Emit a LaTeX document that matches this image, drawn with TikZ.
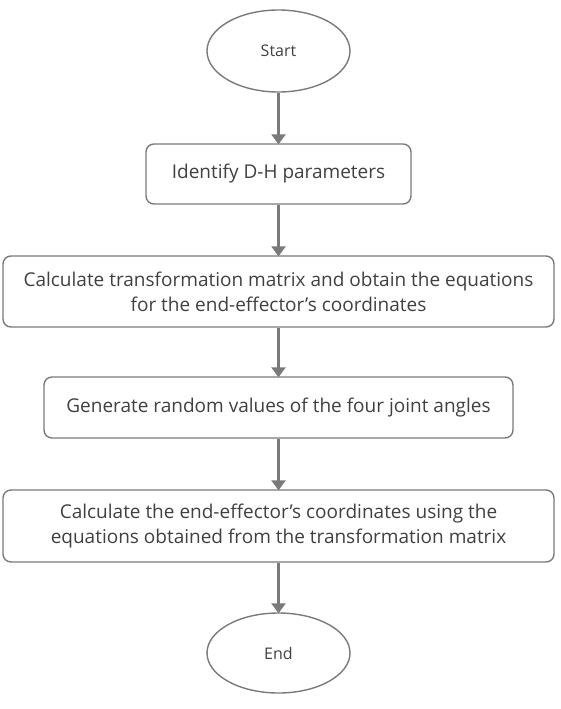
\documentclass[tikz,border=0pt]{standalone}
\usepackage{fontspec}
\setmainfont{Open Sans}
\usetikzlibrary{shapes.geometric,arrows.meta}
\definecolor{edge}{HTML}{7A7A7A}
\definecolor{txt}{HTML}{404040}
\tikzset{
  stepbox/.style={draw=edge, line width=1.4pt, rounded corners=8pt, text=txt, font=\fontsize{19}{25}\selectfont, align=center, inner sep=0pt},
  term/.style={draw=edge, line width=1.4pt, ellipse, text=txt, font=\fontsize{16}{18}\selectfont, inner sep=0pt},
  flow/.style={draw=edge, line width=2.4pt, -{Triangle[length=10pt,width=14pt]}, shorten >=-1pt}
}
\begin{document}
\begin{tikzpicture}[x=1pt,y=-1pt]
\useasboundingbox (0,0) rectangle (561,709);
\node[term, minimum width=143pt, minimum height=82pt] (start) at (278.5,51) {Start};
\node[stepbox, minimum width=265pt, minimum height=60pt] (dh) at (278.5,174) {Identify D-H parameters};
\node[stepbox, minimum width=551pt, minimum height=71pt] (tm) at (278.5,291.5) {Calculate transformation matrix and obtain the equations\\for the end-effector’s coordinates};
\node[stepbox, minimum width=469pt, minimum height=61pt] (rv) at (278.5,407.5) {Generate random values of the four joint angles};
\node[stepbox, minimum width=551pt, minimum height=72pt] (ee) at (278.5,526) {Calculate the end-effector’s coordinates using the\\equations obtained from the transformation matrix};
\node[term, minimum width=143pt, minimum height=80pt] (end) at (278.5,653) {End};
\draw[flow] (start) -- (dh);
\draw[flow] (dh) -- (tm);
\draw[flow] (tm) -- (rv);
\draw[flow] (rv) -- (ee);
\draw[flow] (ee) -- (end);
\end{tikzpicture}
\end{document}
